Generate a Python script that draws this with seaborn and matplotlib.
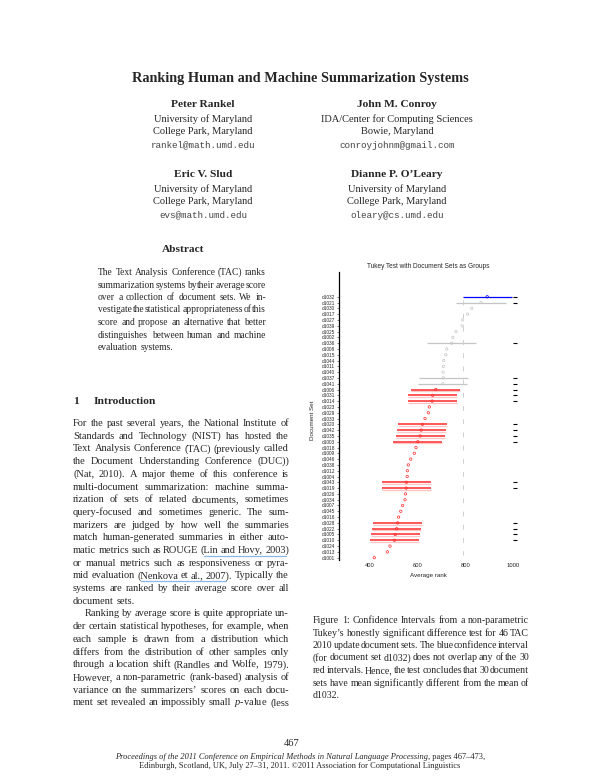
import matplotlib
matplotlib.use('Agg')
import matplotlib.pyplot as plt
from matplotlib.lines import Line2D
import seaborn as sns
import pandas as pd

# chart data (top row first)
sets = ["d1032", "d1021", "d1030", "d1017", "d1027", "d1039", "d1025", "d1002", "d1036", "d1008",
        "d1015", "d1044", "d1011", "d1040", "d1037", "d1041", "d1006", "d1031", "d1014", "d1023",
        "d1029", "d1033", "d1020", "d1042", "d1035", "d1003", "d1018", "d1009", "d1046", "d1038",
        "d1012", "d1004", "d1043", "d1019", "d1026", "d1034", "d1007", "d1045", "d1016", "d1028",
        "d1022", "d1005", "d1010", "d1024", "d1013", "d1001"]
avg_rank = [892, 866, 827, 810, 789, 787, 761, 748, 743, 722,
            718, 710, 708, 707, 707, 705, 676, 663, 661, 649,
            645, 631, 620, 615, 611, 601, 593, 586, 571, 561,
            557, 556, 553, 552, 549, 547, 537, 529, 520, 516,
            512, 506, 503, 484, 473, 418]
group = ["blue"] + ["gray"] * 15 + ["red"] * 30
ci_rows = [0, 1, 8, 14, 15, 16, 17, 18, 22, 23, 24, 25, 32, 33, 39, 40, 41, 42]
half_width = 103
x_ticks = [400, 600, 800, 1000]

title = "Ranking Human and Machine Summarization Systems"
authors = [
    ("Peter Rankel", "University of Maryland", "College Park, Maryland", "rankel@math.umd.edu"),
    ("John M. Conroy", "IDA/Center for Computing Sciences", "Bowie, Maryland", "conroyjohnm@gmail.com"),
    ("Eric V. Slud", "University of Maryland", "College Park, Maryland", "evs@math.umd.edu"),
    ("Dianne P. O’Leary", "University of Maryland", "College Park, Maryland", "oleary@cs.umd.edu"),
]
abstract = [
    "The Text Analysis Conference (TAC) ranks",
    "summarization systems by their average score",
    "over a collection of document sets.  We in-",
    "vestigate the statistical appropriateness of this",
    "score and propose an alternative that better",
    "distinguishes between human and machine",
    "evaluation systems.",
]
intro = [
    "For the past several years, the National Institute of",
    "Standards and Technology (NIST) has hosted the",
    "Text Analysis Conference (TAC) (previously called",
    "the Document Understanding Conference (DUC))",
    "(Nat, 2010).  A major theme of this conference is",
    "multi-document summarization: machine summa-",
    "rization of sets of related documents, sometimes",
    "query-focused and sometimes generic.  The sum-",
    "marizers are judged by how well the summaries",
    "match human-generated summaries in either auto-",
    "matic metrics such as ROUGE (Lin and Hovy, 2003)",
    "or manual metrics such as responsiveness or pyra-",
    "mid evaluation (Nenkova et al., 2007). Typically the",
    "systems are ranked by their average score over all",
    "document sets.",
    "Ranking by average score is quite appropriate un-",
    "der certain statistical hypotheses, for example, when",
    "each sample is drawn from a distribution which",
    "differs from the distribution of other samples only",
    "through a location shift (Randles and Wolfe, 1979).",
    "However, a non-parametric (rank-based) analysis of",
    "variance on the summarizers’ scores on each docu-",
    "ment set revealed an impossibly small $p$-value (less",
]
caption = [
    "Figure 1:  Confidence Intervals from a non-parametric",
    "Tukey’s honestly significant difference test for 46 TAC",
    "2010 update document sets. The blue confidence interval",
    "(for document set d1032) does not overlap any of the 30",
    "red intervals. Hence, the test concludes that 30 document",
    "sets have mean significantly different from the mean of",
    "d1032.",
]
footer_it = "Proceedings of the 2011 Conference on Empirical Methods in Natural Language Processing"
footer_rm = ", pages 467–473,"
footer_2 = "Edinburgh, Scotland, UK, July 27–31, 2011. ©2011 Association for Computational Linguistics"

sns.set_style("white")
plt.rcParams['font.family'] = ['Liberation Serif', 'DejaVu Serif']
plt.rcParams['mathtext.fontset'] = 'custom'
plt.rcParams['mathtext.it'] = 'Liberation Serif:italic'
plt.rcParams['mathtext.rm'] = 'Liberation Serif'
plt.rcParams['lines.scale_dashes'] = False

SERIF, SANS, MONO = 'Liberation Serif', 'Liberation Sans', 'Liberation Mono'
W, H = 600, 776
BODY = 7.5
SMALL = 6.85
CAPT = 7.1

fig = plt.figure(figsize=(6, 7.76), dpi=100)
fig.patch.set_facecolor('white')
renderer = fig.canvas.get_renderer()


def fx(x):
    return x / W


def fy(y):
    return 1 - y / H


def put(x, y, s, size=BODY, ha='left', **kw):
    kw.setdefault('family', SERIF)
    return fig.text(fx(x), fy(y), s, fontsize=size, ha=ha, va='baseline', **kw)


def width(s, size=BODY):
    t = fig.text(0, 0, s, fontsize=size, family=SERIF)
    w = t.get_window_extent(renderer).width
    t.remove()
    return w


def justify(line, x0, x1, y, size=BODY, indent=0, last=False, underline=None):
    words = line.split()
    objs = [put(0, y, w, size) for w in words]
    widths = [o.get_window_extent(renderer).width for o in objs]
    if last or len(words) < 2:
        gap = 0.26 * size * 100 / 72
    else:
        gap = (x1 - x0 - indent - sum(widths)) / (len(words) - 1)
    xs = []
    x = x0 + indent
    for o, w in zip(objs, widths):
        o.set_x(fx(x))
        xs.append(x)
        x += w + gap
    if underline:
        i, j, lead, trail = underline
        u0 = xs[i] + width(lead, size)
        u1 = xs[j] + widths[j] - width(trail, size)
        fig.add_artist(Line2D([fx(u0), fx(u1)], [fy(y + 2.6)] * 2, color='#86b9e6', lw=0.9))


# header
put(300, 82, title, 10.3, ha='center', weight='bold')
for k, (name, aff, city, mail) in enumerate(authors):
    cx = 203 if k % 2 == 0 else 397
    y0 = 107 if k < 2 else 177
    put(cx, y0, name, 8.2, ha='center', weight='bold')
    put(cx, y0 + 14.5, aff, BODY, ha='center')
    put(cx, y0 + 27.5, city, BODY, ha='center')
    put(cx, y0 + 40.5, mail, 6.7, ha='center', family=MONO, color='#444444')

# abstract
put(183, 252, "Abstract", 8.2, ha='center', weight='bold')
for i, line in enumerate(abstract):
    justify(line, 98, 266, 275 + 12.5 * i, size=SMALL, last=(i == len(abstract) - 1))

# introduction
put(73, 404, "1", 8.2, weight='bold')
put(94, 404, "Introduction", 8.2, weight='bold')
links = {10: (5, 8, "(", ")"), 12: (2, 5, "(", ").")}
for i, line in enumerate(intro):
    justify(line, 73, 289, 426 + 12.7 * i, indent=12 if i == 15 else 0,
            last=(i == 14), underline=links.get(i))

# caption
for i, line in enumerate(caption):
    justify(line, 313, 529, 623 + 12.5 * i, size=CAPT, last=(i == len(caption) - 1))

# page number and footer
put(292, 746, "467", BODY, ha='center')
t_it = fig.text(0, fy(759), footer_it, fontsize=6.0, family=SERIF, style='italic', va='baseline')
t_rm = fig.text(0, fy(759), footer_rm, fontsize=6.0, family=SERIF, va='baseline')
wi = t_it.get_window_extent(renderer).width
wr = t_rm.get_window_extent(renderer).width
start = 300 - (wi + wr) / 2
t_it.set_x(fx(start))
t_rm.set_x(fx(start + wi))
put(300, 768, footer_2, 6.0, ha='center')

# chart
df = pd.DataFrame({'set': sets, 'avg_rank': avg_rank, 'group': group})
df['row'] = range(len(df))
palette = {'blue': '#0000ff', 'gray': '#c4c4c4', 'red': '#ff2a2a'}

ax = fig.add_axes([fx(339), fy(560), fx(517) - fx(339), (560 - 272) / H])
ax.set_facecolor('none')

ci = df[df['row'].isin(ci_rows)]
red = ci[ci['group'] == 'red']
ax.hlines(red['row'] + 0.3, red['avg_rank'] - half_width, red['avg_rank'] + half_width,
          color='#ffc4c4', lw=0.9)
for g, lw in [('gray', 0.9), ('red', 1.1), ('blue', 0.9)]:
    sub = ci[ci['group'] == g]
    ax.hlines(sub['row'], sub['avg_rank'] - half_width, sub['avg_rank'] + half_width,
              color=palette[g], lw=lw)

blue_low = df.loc[df['group'] == 'blue', 'avg_rank'].iloc[0] - half_width
ax.plot([blue_low, blue_low], [0.6, 44.5], color='#cfcfcf', lw=0.7, ls=(0, (3.5, 6)))

sns.scatterplot(data=df, x='avg_rank', y='row', hue='group', palette=palette,
                s=3, linewidth=0.5, legend=False, ax=ax, zorder=3)
pts = ax.collections[-1]
pts.set_edgecolors(pts.get_facecolors())
pts.set_facecolors('none')

ax.plot([1008] * len(ci), ci['row'], ls='none', marker='_', ms=3, mew=0.8,
        color='black', clip_on=False)

ax.set_xlim(270, 1017)
ax.set_ylim(45.4, -4.27)
ax.set_yticks(df['row'])
ax.set_yticklabels(df['set'], fontsize=3.4, family=SANS)
ax.set_xticks(x_ticks)
ax.set_xticklabels([str(t) for t in x_ticks], fontsize=4.2, family=SANS)
ax.tick_params(axis='y', length=1.8, width=0.4, pad=1, direction='out', left=True)
ax.tick_params(axis='x', length=0, pad=2)
ax.set_xlabel('')
ax.set_ylabel('')
for side in ['top', 'right', 'bottom']:
    ax.spines[side].set_visible(False)
ax.spines['left'].set_color('black')
ax.spines['left'].set_linewidth(0.9)

fig.text(fx(428), fy(266), "Tukey Test with Document Sets as Groups", fontsize=4.7,
         family=SANS, ha='center', va='center')
fig.text(fx(428), fy(575), "Average rank", fontsize=4.5, family=SANS, ha='center', va='center')
fig.text(fx(312), fy(420), "Document Set", fontsize=4.5, family=SANS, ha='center', va='center',
         rotation=90)

fig.savefig('out.png', dpi=100)
